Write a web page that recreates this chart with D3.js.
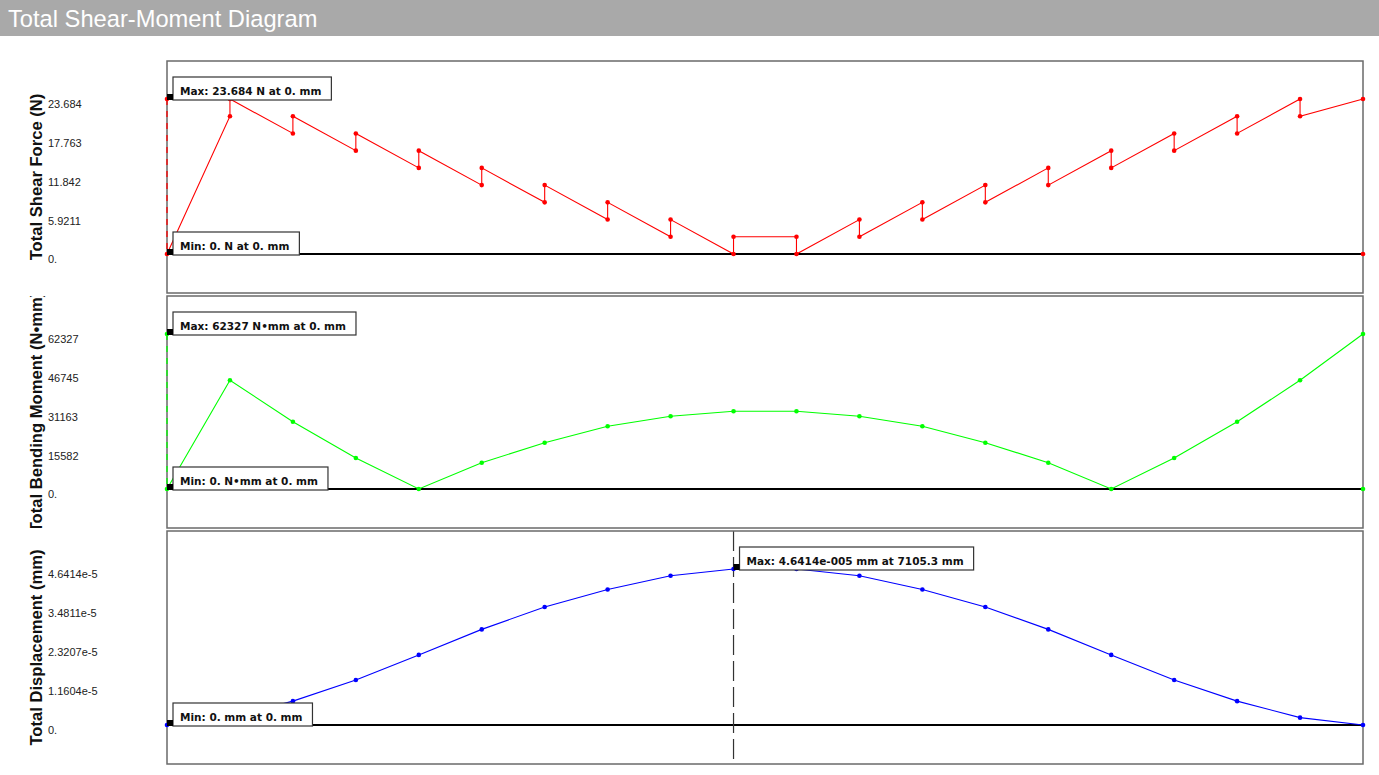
<!DOCTYPE html>
<html lang="en">
<head>
<meta charset="UTF-8">
<title>Total Shear-Moment Diagram</title>
<style>
  body { margin: 0; background: #fff; }
  svg { display: block; font-family: "Liberation Sans", Arial, sans-serif; }
</style>
</head>
<body>
<svg id="chart" width="1379" height="775"></svg>
<script src="https://d3js.org/d3.v7.min.js"></script>
<script>
// beam length and result stations (mm)
const beamLength = 15000;
const stations = [0, 789.5, 1578.9, 2368.4, 3157.9, 3947.4, 4736.8, 5526.3, 6315.8, 7105.3,
  7894.7, 8684.2, 9473.7, 10263.2, 11052.6, 11842.1, 12631.6, 13421.1, 14210.5, 15000];

// shear force polyline vertices (N), jumps drawn as repeated x
const shearX = [0, 0, 789.5, 789.5, 1578.9, 1578.9, 2368.4, 2368.4, 3157.9, 3157.9, 3947.4, 3947.4,
  4736.8, 4736.8, 5526.3, 5526.3, 6315.8, 6315.8, 7105.3, 7105.3, 7894.7, 7894.7, 8684.2, 8684.2,
  9473.7, 9473.7, 10263.2, 10263.2, 11052.6, 11052.6, 11842.1, 11842.1, 12631.6, 12631.6,
  13421.1, 13421.1, 14210.5, 14210.5, 15000, 15000];
const shearV = [23.684, 0, 21.053, 23.684, 18.421, 21.053, 15.789, 18.421, 13.158, 15.789, 10.526, 13.158,
  7.895, 10.526, 5.263, 7.895, 2.632, 5.263, 0, 2.632, 2.632, 0, 5.263, 2.632,
  7.895, 5.263, 10.526, 7.895, 13.158, 10.526, 15.789, 13.158, 18.421, 15.789,
  21.053, 18.421, 23.684, 21.053, 23.684, 0];

// bending moment (N*mm)
const momentX = [0, 0, 789.5, 1578.9, 2368.4, 3157.9, 3947.4, 4736.8, 5526.3, 6315.8, 7105.3,
  7894.7, 8684.2, 9473.7, 10263.2, 11052.6, 11842.1, 12631.6, 13421.1, 14210.5, 15000, 15000];
const momentV = [62327, 0, 43710, 27060, 12470, 0, 10580, 18620, 25210, 29230, 31240,
  31240, 29230, 25210, 18620, 10580, 0, 12470, 27060, 43710, 62327, 0];

// displacement (mm) at each station
const dispV = [0, 2.19e-6, 7.10e-6, 1.338e-5, 2.086e-5, 2.845e-5, 3.513e-5, 4.032e-5, 4.442e-5, 4.6414e-5,
  4.64e-5, 4.442e-5, 4.032e-5, 3.513e-5, 2.845e-5, 2.086e-5, 1.338e-5, 7.10e-6, 2.19e-6, 0];

const shearTicks = [0, 5.9211, 11.842, 17.763, 23.684];
const shearTickLabels = ["0.", "5.9211", "11.842", "17.763", "23.684"];
const momentTicks = [0, 15582, 31163, 46745, 62327];
const momentTickLabels = ["0.", "15582", "31163", "46745", "62327"];
const dispTicks = [0, 1.1604e-5, 2.3207e-5, 3.4811e-5, 4.6414e-5];
const dispTickLabels = ["0.", "1.1604e-5", "2.3207e-5", "3.4811e-5", "4.6414e-5"];

const svg = d3.select("#chart");
const W = 1379;

// title bar
svg.append("rect").attr("x", 0).attr("y", 0).attr("width", W).attr("height", 36).attr("fill", "#a9a9a9");
svg.append("text").attr("x", 8).attr("y", 27)
  .style("font-size", "23.7px").attr("fill", "#fff")
  .text("Total Shear-Moment Diagram");

const x = d3.scaleLinear().domain([0, beamLength]).range([167, 1363]);

const panels = [
  {
    top: 61, bottom: 293, title: "Total Shear Force (N)", color: "#ff0000",
    xs: shearX, vs: shearV, max: 23.684, ticks: shearTicks, labels: shearTickLabels,
    dashedStart: true, endDrop: true,
    markers: [
      { x: 0, v: 23.684, text: "Max: 23.684 N at 0. mm" },
      { x: 0, v: 0, text: "Min: 0. N at 0. mm" }
    ]
  },
  {
    top: 296, bottom: 528, title: "Total Bending Moment (N\u2022mm)", color: "#00ff00",
    xs: momentX, vs: momentV, max: 62327, ticks: momentTicks, labels: momentTickLabels,
    dashedStart: true, endDrop: true,
    markers: [
      { x: 0, v: 62327, text: "Max: 62327 N\u2022mm at 0. mm" },
      { x: 0, v: 0, text: "Min: 0. N\u2022mm at 0. mm" }
    ]
  },
  {
    top: 531, bottom: 764, title: "Total Displacement (mm)", color: "#0000ff",
    xs: stations, vs: dispV, max: 4.6414e-5, ticks: dispTicks, labels: dispTickLabels,
    dashedStart: false, endDrop: false, guideAt: 7105.3,
    markers: [
      { x: 7105.3, v: 4.6414e-5, text: "Max: 4.6414e-005 mm at 7105.3 mm" },
      { x: 0, v: 0, text: "Min: 0. mm at 0. mm" }
    ]
  }
];

panels.forEach((p, i) => {
  const y = d3.scaleLinear().domain([0, p.max]).range([p.bottom - 39, p.top + 38]);
  const pts = p.xs.map((v, k) => [v, p.vs[k]]);
  const line = d3.line().x(d => x(d[0])).y(d => y(d[1]));

  // y title, clipped to the panel height
  svg.append("clipPath").attr("id", "clip" + i)
    .append("rect").attr("x", 0).attr("y", p.top).attr("width", 160).attr("height", p.bottom - p.top);
  svg.append("g").attr("clip-path", `url(#clip${i})`)
    .append("text")
    .attr("transform", `translate(36,${(p.top + p.bottom) / 2}) rotate(-90)`)
    .attr("text-anchor", "middle")
    .attr("dy", "0.35em")
    .style("font-size", "16.6px").style("font-weight", "bold").attr("fill", "#111")
    .text(p.title);

  // tick labels
  const ax = svg.append("g").attr("transform", "translate(45,0)")
    .call(d3.axisRight(y).tickValues(p.ticks).tickFormat((d, k) => p.labels[k]).tickSize(0).tickPadding(3));
  ax.select(".domain").remove();
  ax.selectAll("text").attr("dy", "0.8em").style("font-size", "11px").attr("fill", "#222")
    .style("font-family", "'Liberation Sans', Arial, sans-serif");

  // zero line
  svg.append("line").attr("x1", x(0)).attr("x2", x(beamLength))
    .attr("y1", y(0)).attr("y2", y(0)).attr("stroke", "#000").attr("stroke-width", 2);

  // series
  const solid = pts.slice(p.dashedStart ? 1 : 0, p.endDrop ? pts.length - 1 : pts.length);
  svg.append("path").datum(solid).attr("d", line)
    .attr("fill", "none").attr("stroke", p.color).attr("stroke-width", 1.1);

  if (p.guideAt !== undefined) {
    svg.append("line").attr("x1", x(p.guideAt)).attr("x2", x(p.guideAt))
      .attr("y1", p.top).attr("y2", p.bottom)
      .attr("stroke", "#333").attr("stroke-width", 1.2).attr("stroke-dasharray", "20,6");
  }

  // panel frame
  svg.append("rect").attr("x", 167).attr("y", p.top).attr("width", 1196).attr("height", p.bottom - p.top)
    .attr("fill", "none").attr("stroke", "#6a6a6a").attr("stroke-width", 1.5);

  if (p.dashedStart) {
    svg.append("path").datum(pts.slice(0, 2)).attr("d", line)
      .attr("fill", "none").attr("stroke", p.color).attr("stroke-width", 1.3)
      .attr("stroke-dasharray", "6,6");
  }

  svg.append("g").selectAll("circle").data(pts).join("circle")
    .attr("cx", d => x(d[0])).attr("cy", d => y(d[1])).attr("r", 2.3)
    .attr("fill", p.color);

  // max / min callouts
  p.markers.forEach(m => {
    const px = x(m.x), py = y(m.v);
    const g = svg.append("g");
    const box = g.append("rect").attr("x", px + 6).attr("y", py - 22).attr("height", 23)
      .attr("fill", "#fff").attr("stroke", "#333").attr("stroke-width", 1.2);
    const t = g.append("text").attr("x", px + 13).attr("y", py - 4)
      .style("font-family", "'DejaVu Sans', Verdana, sans-serif")
      .style("font-size", "10.5px").style("font-weight", "bold").attr("fill", "#111")
      .text(m.text);
    box.attr("width", t.node().getComputedTextLength() + 17);
    g.append("rect").attr("x", px).attr("y", py - 5).attr("width", 6).attr("height", 6).attr("fill", "#000");
  });
});
</script>
</body>
</html>
